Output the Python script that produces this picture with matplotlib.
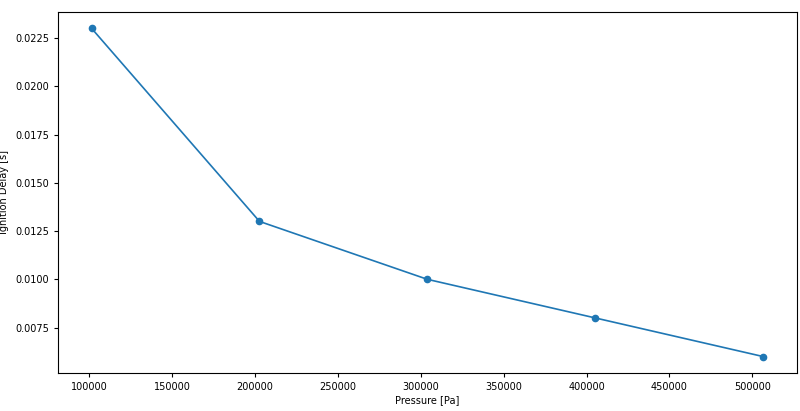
import matplotlib
matplotlib.use("Agg")
import matplotlib.pyplot as plt

pressure = [101325, 202650, 303975, 405300, 506625]
delay = [0.023, 0.013, 0.010, 0.008, 0.006]

fig = plt.figure(figsize=(8, 4.11), dpi=100)
ax = fig.add_axes([0.0725, 0.0925, 0.9235, 0.8785])
ax.plot(pressure, delay, marker='o', markersize=4.5, color='#1f77b4', linewidth=1.2)
ax.set_xlabel('Pressure [Pa]', fontsize=7, labelpad=2)
ax.set_ylabel('Ignition Delay [s]', fontsize=7, labelpad=4)
ax.tick_params(labelsize=7, length=3)
ax.set_xticks([100000, 150000, 200000, 250000, 300000, 350000, 400000, 450000, 500000])
ax.ticklabel_format(style='plain', axis='x', useOffset=False)
ax.set_yticks([0.0075, 0.01, 0.0125, 0.015, 0.0175, 0.02, 0.0225])
ax.set_yticklabels(['0.0075', '0.0100', '0.0125', '0.0150', '0.0175', '0.0200', '0.0225'])
fig.savefig('out.png', dpi=100)
